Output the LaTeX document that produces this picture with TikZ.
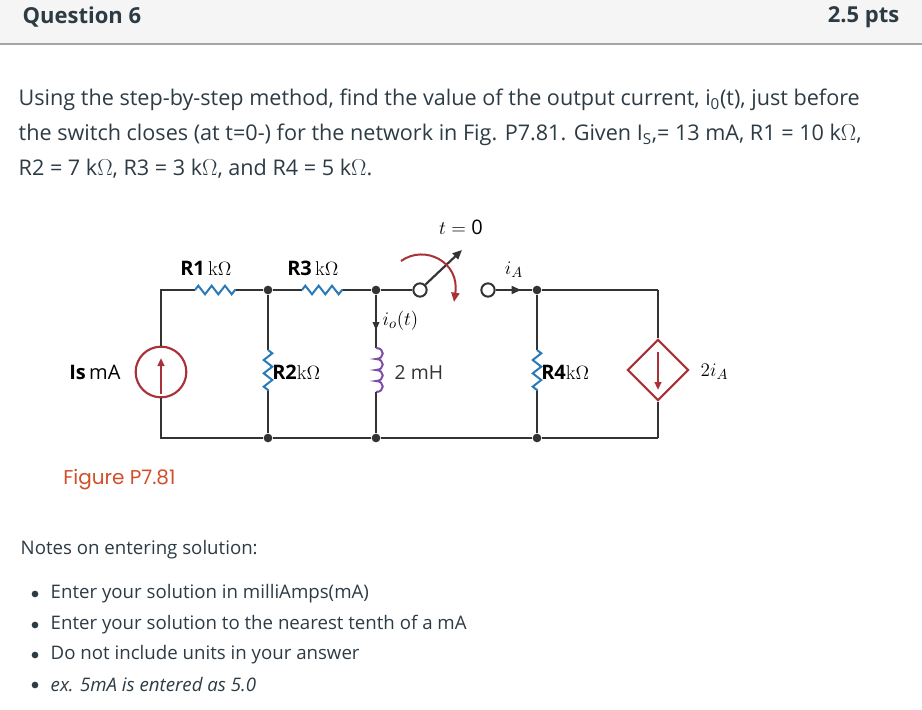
\documentclass[tikz,border=0pt]{standalone}
\usepackage{fontspec}
\setmainfont{Open Sans}
\newfontfamily\lmfont{Latin Modern Roman}
\newfontfamily\figfont{Poppins}
\usetikzlibrary{decorations.pathmorphing,arrows.meta,shapes.geometric}
\definecolor{txt}{HTML}{2D3B45}
\definecolor{wire}{HTML}{333333}
\definecolor{resb}{HTML}{2A7AB8}
\definecolor{srcr}{HTML}{A83238}
\definecolor{indp}{HTML}{7B4FA8}
\definecolor{figc}{HTML}{D0502A}
\begin{document}
\begin{tikzpicture}[x=0.75pt,y=-0.75pt,
  w/.style={draw=wire,line width=1.8pt},
  res/.style={draw=resb,line width=1.5pt,decorate,decoration={zigzag,amplitude=3.2pt,segment length=10pt}},
  dot/.style={circle,fill=wire,inner sep=0pt,minimum size=6.5pt},
  term/.style={circle,draw=wire,fill=white,line width=1.5pt,inner sep=0pt,minimum size=10pt},
  lbl/.style={anchor=west,inner sep=0pt,font=\fontsize{15}{16}\selectfont},
  mth/.style={font=\lmfont\fontsize{15}{16}\selectfont},
  body/.style={anchor=west,text=txt,font=\fontsize{16.2}{18}\selectfont}]
\useasboundingbox (0,0) rectangle (922,710);
\fill[white] (0,0) rectangle (922,710);
\fill[black!4] (0,0) rectangle (922,44);
\draw[black!35,line width=1pt] (0,44) -- (922,44);
\node[body,font=\fontsize{16.5}{18}\selectfont\bfseries] (q) at (18,17) {Question 6};
\node[anchor=east,text=txt,font=\fontsize{16.5}{18}\selectfont\bfseries] (pts) at (904,17) {2.5 pts};
\node[body] (l1) at (14,100) {Using the step-by-step method, find the value of the output current, i\textsubscript{0}(t), just before};
\node[body] (l2) at (14,135) {the switch closes (at t=0-) for the network in Fig. P7.81. Given I\textsubscript{S},= 13 mA, R1 = 10 k$\Omega$,};
\node[body] (l3) at (14,169) {R2 = 7 k$\Omega$, R3 = 3 k$\Omega$, and R4 = 5 k$\Omega$.};
% nodes
\coordinate (tl) at (161,290); \coordinate (bl) at (161,438);
\node[dot] (a) at (268,290) {}; \node[dot] (ab) at (268,438) {};
\node[dot] (b) at (376,290) {}; \node[dot] (bb) at (376,438) {};
\node[dot] (c) at (537,290) {}; \node[dot] (cb) at (537,438) {};
\coordinate (tr) at (658,290); \coordinate (br) at (658,438);
\node[term] (s1) at (420,290) {};
\node[term] (s2) at (488,290) {};
% source
\node[circle,draw=srcr,line width=1.6pt,minimum size=38pt,inner sep=0pt] (is) at (161,372) {};
\draw[srcr,line width=1.5pt,-{Triangle[length=6pt,width=5pt]}] (161,394) -- (161,358);
\draw[w] (is.north) -- (tl) -- (195,290);
\draw[w] (is.south) -- (bl) -- (ab) -- (bb) -- (cb) -- (br);
\draw[res] (195,290) -- (236,290);
\draw[w] (236,290) -- (a) -- (302,290);
\draw[res] (302,290) -- (343,290);
\draw[w] (343,290) -- (b) -- (s1);
\draw[w] (a) -- (268,350); \draw[res] (268,350) -- (268,391); \draw[w] (268,391) -- (ab);
\draw[w] (b) -- (376,348);
\draw[indp,line width=1.5pt] (376,348)
  \foreach \k in {0,1,2,3}{ .. controls (385,348+11*\k) and (385,359+11*\k) .. (376,359+11*\k)};
\draw[w] (376,392) -- (bb);
\draw[-{Triangle[length=6pt,width=5pt]},wire,line width=1.2pt] (376,312) -- (376,330);
\node[mth,anchor=west] (io) at (378,321) {$i_o(t)$};
\node[anchor=west,text=wire,font=\fontsize{14.5}{16}\selectfont] (l2mh) at (390,372) {2 mH};
% switch
\draw[wire,line width=1.6pt,-{Triangle[length=7pt,width=6pt]}] (s1.45) -- (462,250);
\draw[srcr,line width=1.5pt,-{Triangle[length=7pt,width=6pt]}] (401,261) .. controls (425,244) and (460,262) .. (454,302);
\node[mth] (t0) at (461,227) {$t = \mathrm{0}$};
\draw[w] (s2) -- (c);
\draw[wire,-{Triangle[length=7pt,width=6pt]},line width=1.2pt] (s2.east) -- (521,290);
\node[mth] (ia) at (514,270) {$i_A$};
\draw[w] (c) -- (tr);
\draw[w] (c) -- (537,350); \draw[res] (537,350) -- (537,391); \draw[w] (537,391) -- (cb);
\node[draw=srcr,line width=1.6pt,diamond,aspect=1,minimum size=46pt,inner sep=0pt] (dep) at (658,370) {};
\draw[srcr,line width=1.5pt,-{Triangle[length=6pt,width=5pt]}] (658,352) -- (658,390);
\draw[w] (dep.south) -- (br);
\draw[w] (dep.north) -- (tr);
\node[mth,anchor=west] (dl) at (696,372) {$2i_A$};
% labels
\node[lbl] (r1l) at (180,268) {\bfseries R1\,\lmfont\mdseries k$\Omega$};
\node[lbl] (r3l) at (287,268) {\bfseries R3\,\lmfont\mdseries k$\Omega$};
\node[lbl] (isl) at (69,372) {\bfseries Is\,\mdseries mA};
\node[lbl] (r2l) at (272,372) {\bfseries R2\lmfont\mdseries k$\Omega$};
\node[lbl] (r4l) at (541,372) {\bfseries R4\lmfont\mdseries k$\Omega$};
\node[anchor=west,inner sep=0pt,text=figc,font=\figfont\fontsize{15}{16}\selectfont] (fig) at (63,480) {Figure P7.81};
% notes
\node[body,font=\fontsize{14}{16}\selectfont] (n0) at (16,550) {Notes on entering solution:};
\foreach \y/\t [count=\i] in {594/{Enter your solution in milliAmps(mA)},625/{Enter your solution to the nearest tenth of a mA},655/{Do not include units in your answer}}{
  \fill[txt] (35,\y) circle (2.5pt);
  \node[body,font=\fontsize{14}{16}\selectfont] (n\i) at (46,\y) {\t};
}
\fill[txt] (35,685) circle (2.5pt);
\node[body,font=\fontsize{14}{16}\selectfont\itshape] (n4) at (46,685) {ex. 5mA is entered as 5.0};
\end{tikzpicture}
\end{document}
